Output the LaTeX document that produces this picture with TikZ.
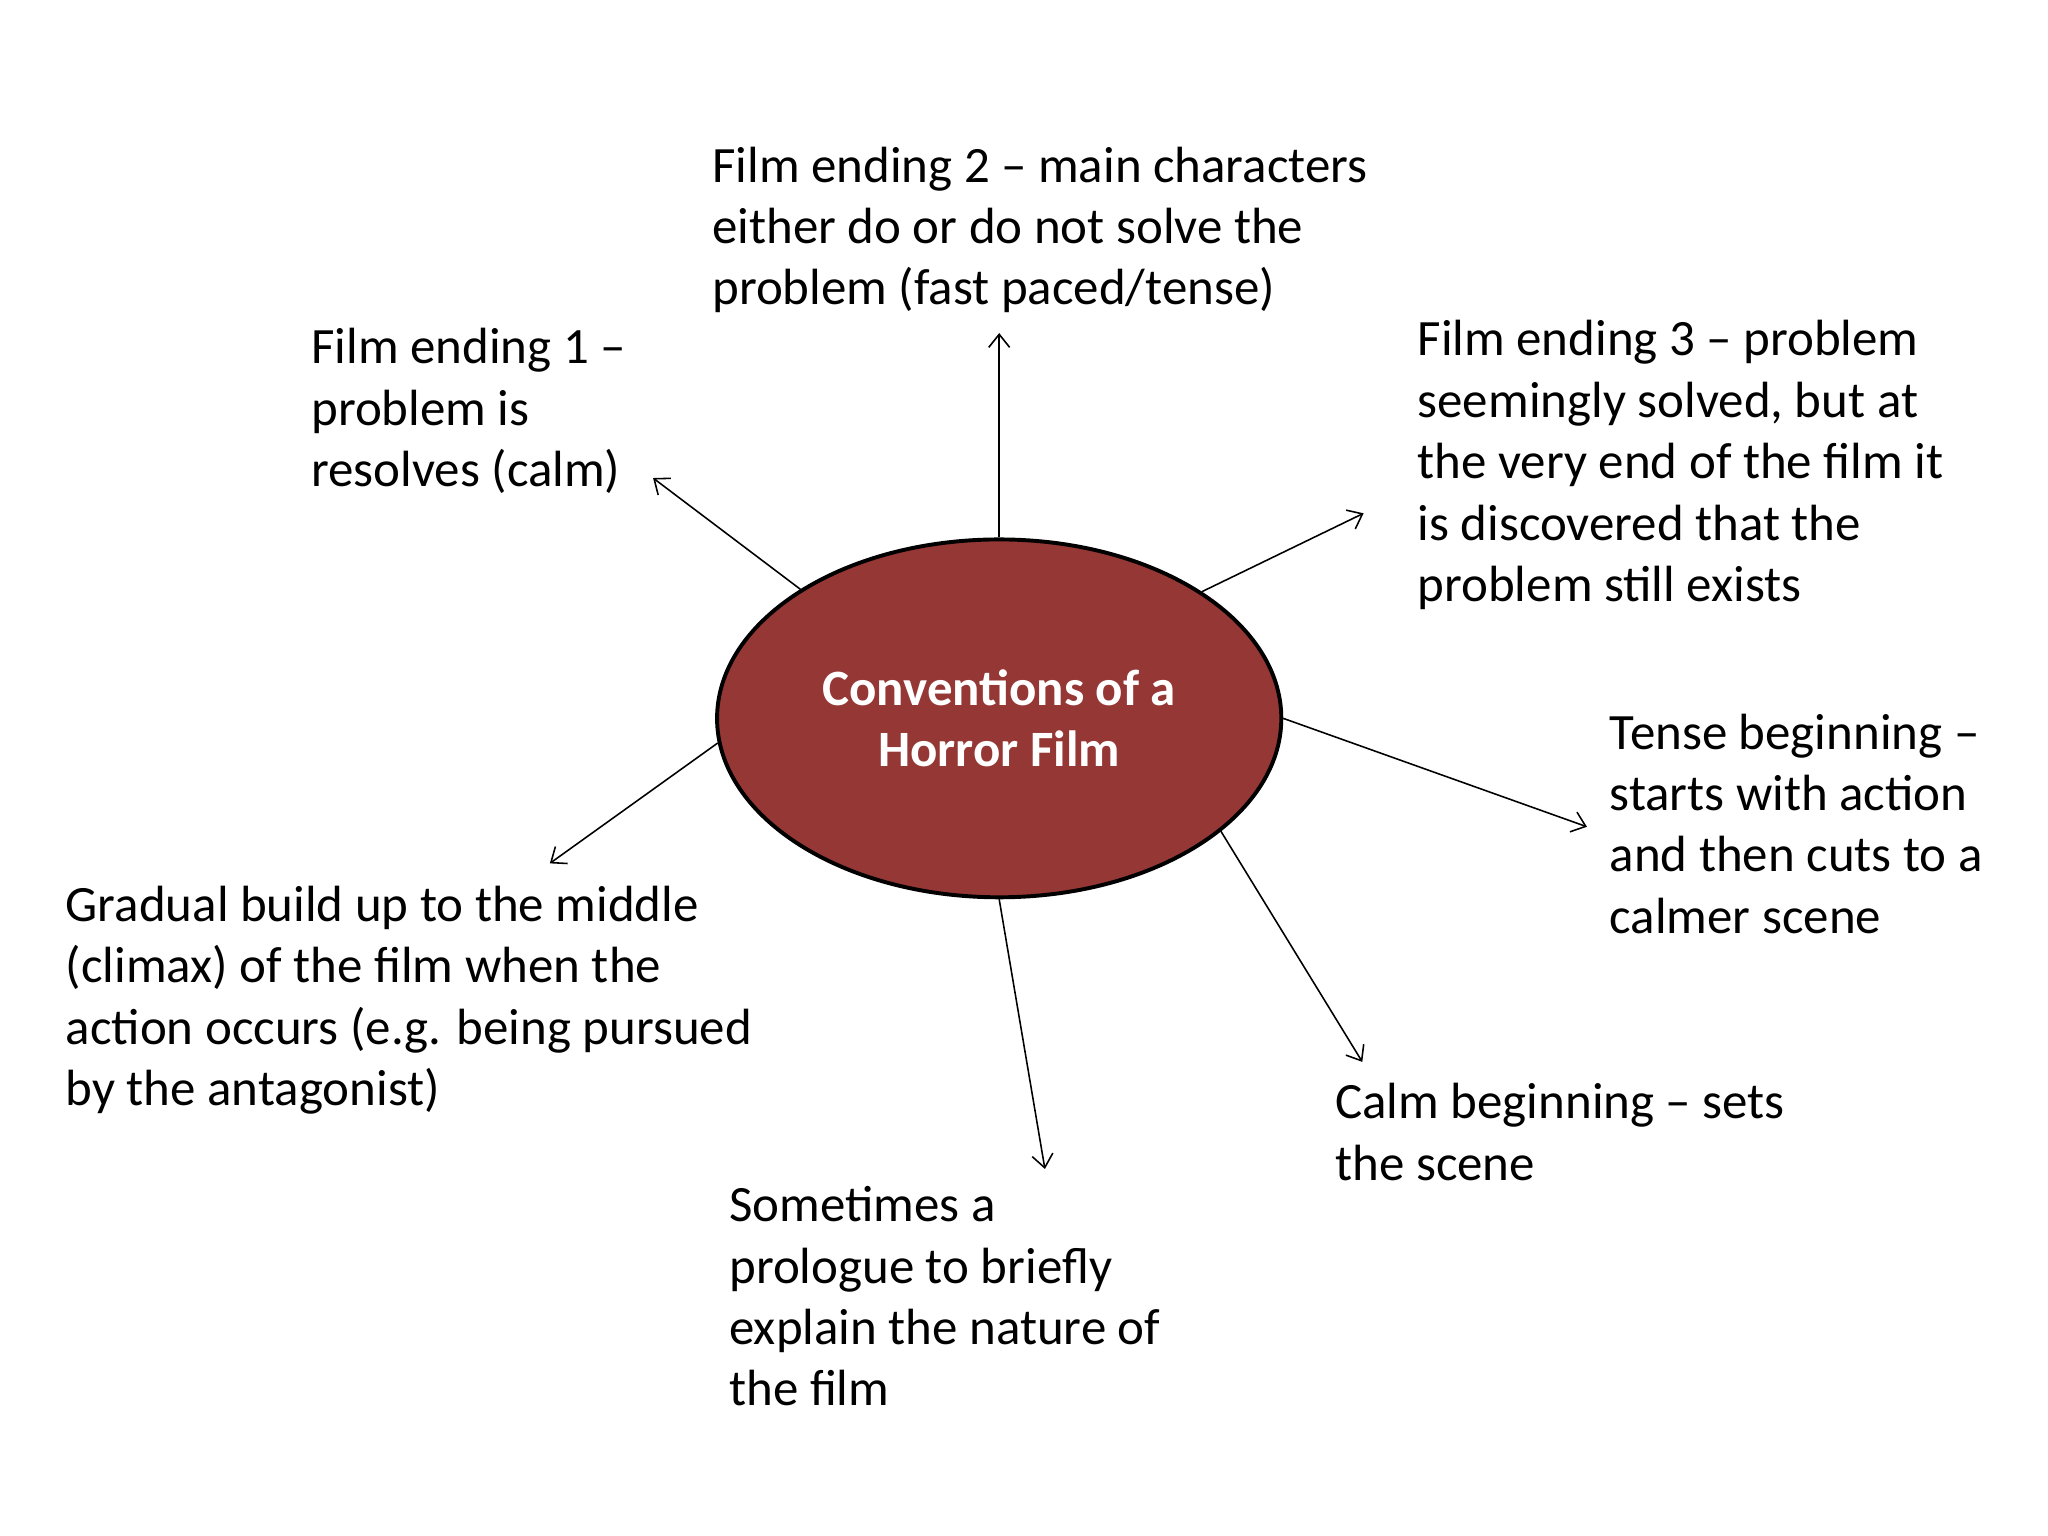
\documentclass[tikz,border=0pt]{standalone}
\usepackage{fontspec}
\setmainfont{Carlito}
\usetikzlibrary{arrows.meta,shapes.geometric}
\definecolor{horrorred}{HTML}{953735}
\tikzset{
  notebox/.style={anchor=north west,inner sep=0pt,align=left,font=\fontsize{19.5}{23.5}\selectfont},
  spoke/.style={-{Straight Barb[length=5pt,width=8pt]},line width=0.6pt}
}
\begin{document}
\begin{tikzpicture}[x=0.5pt,y=0.5pt,yscale=-1,xscale=1]
\useasboundingbox (0,0) rectangle (1568,1176);

% centre
\node (hub) [ellipse,draw,line width=1.5pt,fill=horrorred,minimum width=216pt,minimum height=137pt,inner sep=0pt,
  text=white,font=\fontsize{19.5}{23.5}\selectfont\bfseries,align=center] at (765,550) {Conventions of a\\Horror Film};

% Text Node
\node (endone) [notebox] at (238,251) {Film ending 1 --\\problem is\\resolves (calm)};
\node (endtwo) [notebox] at (545,112) {Film ending 2 -- main characters\\either do or do not solve the\\problem (fast paced/tense)};
\node (endthree) [notebox] at (1085,245) {Film ending 3 -- problem\\seemingly solved, but at\\the very end of the film it\\is discovered that the\\problem still exists};
\node (tense) [notebox] at (1232,546) {Tense beginning --\\starts with action\\and then cuts to a\\calmer scene};
\node (calm) [notebox] at (1022,829) {Calm beginning -- sets\\the scene};
\node (prologue) [notebox] at (558,908) {Sometimes a\\prologue to briefly\\explain the nature of\\the film};
\node (gradual) [notebox] at (50,678) {Gradual build up to the middle\\(climax) of the film when the\\action occurs (e.g. being pursued\\by the antagonist)};

% arrow ends
\coordinate (tipone) at (500,366);
\coordinate (tiptwo) at (765,255);
\coordinate (tipthree) at (1044,393);
\coordinate (tiptense) at (1215,633);
\coordinate (tipcalm) at (1043,813);
\coordinate (tipprologue) at (800,895);
\coordinate (tipgradual) at (421,661);

\draw [spoke] (hub.147.8) -- (tipone);
\draw [spoke] (hub.90) -- (tiptwo);
\draw [spoke] (hub.32.4) -- (tipthree);
\draw [spoke] (hub.0) -- (tiptense);
\draw [spoke] (hub.-27) -- (tipcalm);
\draw [spoke] (hub.-90) -- (tipprologue);
\draw [spoke] (hub.185.8) -- (tipgradual);

\end{tikzpicture}
\end{document}
